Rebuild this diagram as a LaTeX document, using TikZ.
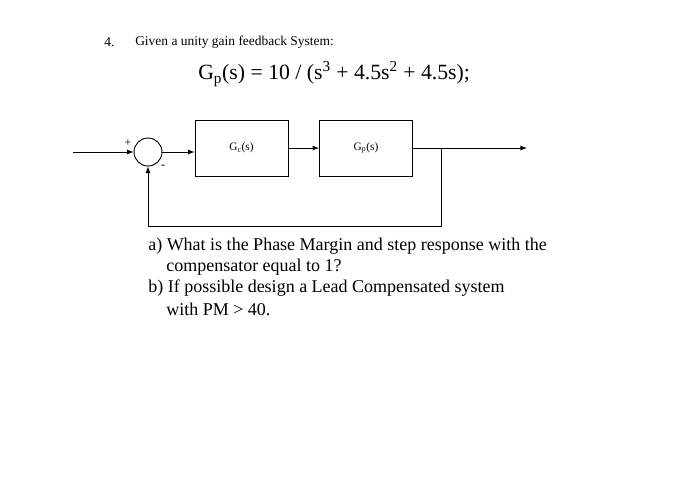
\documentclass[tikz,border=0pt]{standalone}
\usepackage{fontspec}
\setmainfont{Liberation Serif}
\begin{document}
\begin{tikzpicture}[x=0.75pt,y=-0.75pt,
  blk/.style={draw,minimum width=69.75pt,minimum height=42pt,inner sep=0pt},
  ln/.style={line width=0.7pt},
  arr/.style={ln,-latex},
  txt/.style={anchor=west,inner sep=0pt}]
\useasboundingbox (0,0) rectangle (700,476);
\node[txt,font=\fontsize{10.1}{12}\selectfont] (n4) at (104,42) {4.};
\node[txt,font=\fontsize{10.1}{12}\selectfont] (t1) at (135,42) {Given a unity gain feedback System:};
\node[txt,font=\fontsize{16.3}{19}\selectfont] (eq) at (198,74) {G\textsubscript{p}(s) = 10 / (s\textsuperscript{3} + 4.5s\textsuperscript{2} + 4.5s);};
\node[draw,ln,circle,minimum size=21pt,inner sep=0pt] (s) at (148,152) {};
\node[blk,ln] (gc) at (241.5,148) {\fontsize{8.5}{10}\selectfont G\textsubscript{c}(s)};
\node[blk,ln] (gp) at (366,148) {\fontsize{8.5}{10}\selectfont G\textsubscript{p}(s)};
\coordinate (in) at (73,152);
\coordinate (br) at (441,148);
\coordinate (out) at (527,148);
\coordinate (d1) at (441,226);
\coordinate (d2) at (148,226);
\draw[arr] (in) -- (s.west);
\draw[arr] (s.east) -- (gc.west |- s.east);
\draw[arr] (gc) -- (gp);
\draw[arr] (gp) -- (out);
\draw[arr] (br) -- (d1) -- (d2) -- (s.south);
\node[font=\fontsize{9}{10}\selectfont,inner sep=0pt] (pl) at (128,143) {+};
\node[font=\fontsize{9}{10}\selectfont,inner sep=0pt] (mi) at (163,167) {-};
\begin{scope}[font=\fontsize{13.5}{16}\selectfont]
\node[txt] (a1) at (148,246) {a) What is the Phase Margin and step response with the};
\node[txt] (a2) at (166,267) {compensator equal to 1?};
\node[txt] (b1) at (148,288) {b) If possible design a Lead Compensated system};
\node[txt] (b2) at (166,309) {with PM > 40.};
\end{scope}
\end{tikzpicture}
\end{document}
